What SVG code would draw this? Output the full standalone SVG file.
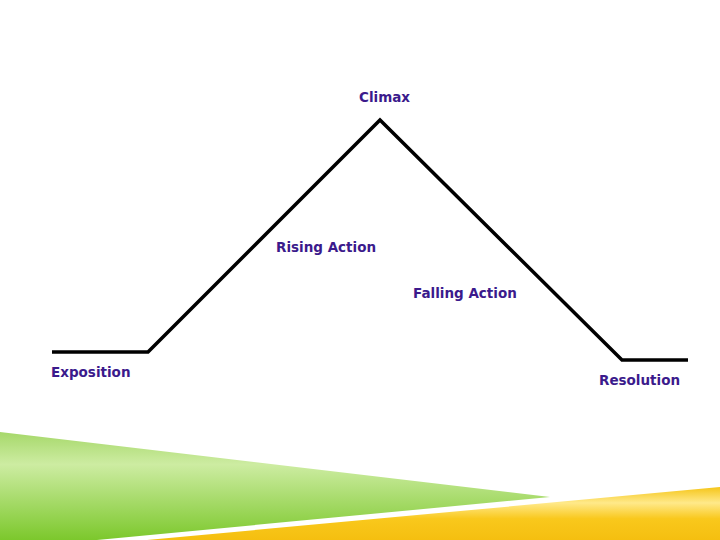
<svg xmlns="http://www.w3.org/2000/svg" width="720" height="540" viewBox="0 0 720 540">
<style>text{font-family:"DejaVu Sans",sans-serif;font-weight:bold;font-size:13.5px;fill:#3b1a8c}</style>
<defs>
<linearGradient id="g" x1="0" y1="0" x2="0" y2="1"><stop offset="0" stop-color="#a6d86a"/><stop offset="0.3" stop-color="#cdeca2"/><stop offset="1" stop-color="#7cc82c"/></linearGradient>
<linearGradient id="y" x1="0" y1="0" x2="0" y2="1"><stop offset="0" stop-color="#f5c518"/><stop offset="0.3" stop-color="#ffe98a"/><stop offset="0.6" stop-color="#f9c81c"/><stop offset="1" stop-color="#f5bf10"/></linearGradient>
</defs>
<rect width="720" height="540" fill="#fff"/>
<polygon points="0,432 550,497 97,540 0,540" fill="url(#g)"/>
<polygon points="147,540 720,487 720,540" fill="url(#y)"/>
<g id="connectors"><polyline points="52,352 148,352 380,120 622,360 688,360" fill="none" stroke="#000" stroke-width="3.5" stroke-linejoin="miter"/></g>
<g id="climax"><text x="359" y="102">Climax</text></g>
<g id="rising"><text x="276" y="252">Rising Action</text></g>
<g id="falling"><text x="413" y="298">Falling Action</text></g>
<g id="exposition"><text x="51" y="377">Exposition</text></g>
<g id="resolution"><text x="599" y="385">Resolution</text></g>
</svg>
